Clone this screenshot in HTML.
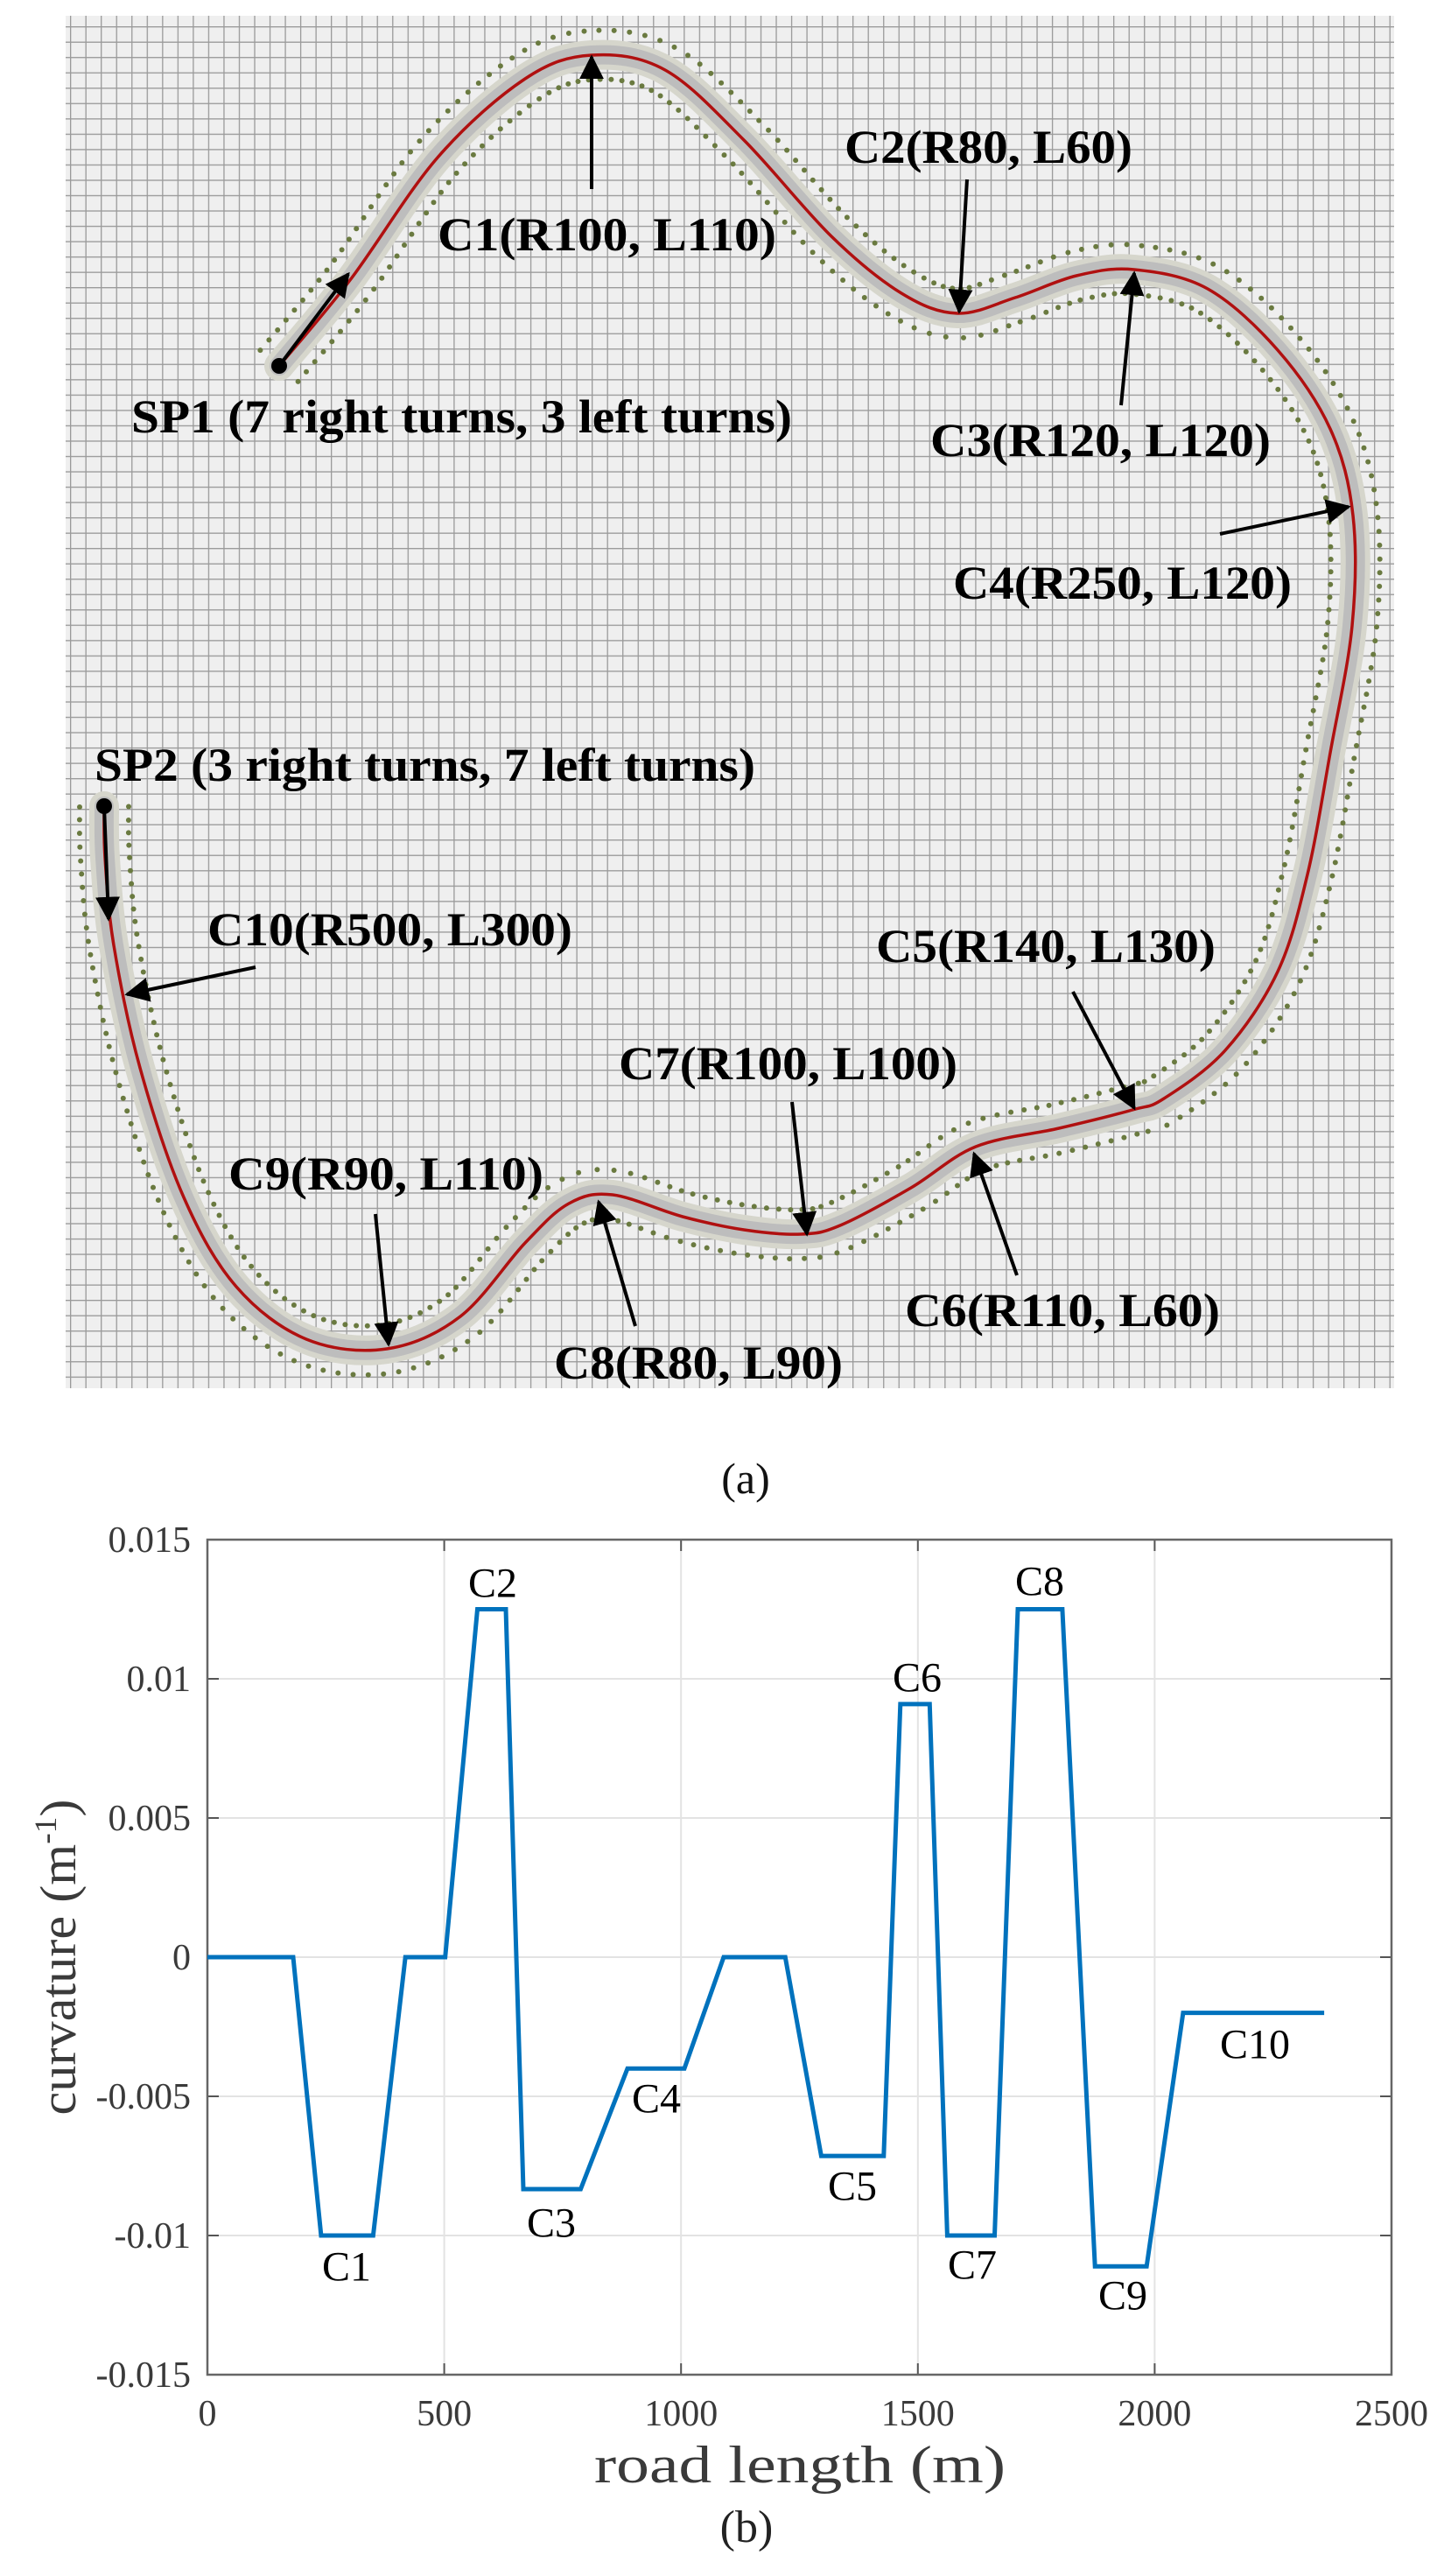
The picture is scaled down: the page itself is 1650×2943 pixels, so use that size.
<!DOCTYPE html>
<html><head><meta charset="utf-8"><style>
html,body{margin:0;padding:0;background:#fff;}
svg{display:block;}
</style></head><body>
<svg id="s" width="1650" height="2943" viewBox="0 0 1650 2943" xmlns="http://www.w3.org/2000/svg">
<defs>
<pattern id="grid" x="80" y="30" width="17.53" height="17.53" patternUnits="userSpaceOnUse">
<rect width="17.53" height="17.53" fill="#efefef"/>
<path d="M0 0V17.53M0 0H17.53" stroke="#9a9a9a" stroke-width="2.6" fill="none"/>
</pattern>
<marker id="ah" viewBox="0 0 10 10" refX="9" refY="5" markerWidth="7" markerHeight="7" orient="auto" markerUnits="strokeWidth">
<path d="M0 0L10 5L0 10z" fill="#000"/>
</marker>
</defs>
<rect x="75" y="18" width="1518" height="1568" fill="url(#grid)"/>
<g id="trees" fill="#6a7a40"></g>
<g id="road" fill="none" stroke-linecap="round" stroke-linejoin="round">
<path class="rp" id="mainpath" stroke="#d6d6cc" stroke-width="34"/>
<path class="rp" stroke="#bdbdbd" stroke-width="22"/>
<path class="rp" stroke="#b01010" stroke-width="3.5"/>
</g>
<circle cx="319" cy="418" r="9" fill="#000"/>
<circle cx="119" cy="921" r="9" fill="#000"/>
<g stroke="#000" stroke-width="4" marker-end="url(#ah)" fill="none">
<line x1="676" y1="216" x2="676" y2="65"/>
<line x1="1105" y1="205" x2="1096" y2="356"/>
<line x1="1281" y1="463" x2="1296" y2="312"/>
<line x1="1394" y1="610" x2="1541" y2="579"/>
<line x1="319" y1="418" x2="398" y2="313"/>
<line x1="119" y1="921" x2="124" y2="1050"/>
<line x1="292" y1="1105" x2="145" y2="1136"/>
<line x1="1226" y1="1133" x2="1296" y2="1266"/>
<line x1="905" y1="1259" x2="922" y2="1410"/>
<line x1="1162" y1="1457" x2="1113" y2="1318"/>
<line x1="726" y1="1515" x2="684" y2="1373"/>
<line x1="429" y1="1387" x2="444" y2="1536"/>
</g>
<g font-family="Liberation Serif, serif" font-weight="bold" font-size="54" fill="#000">
<text x="500" y="286" textLength="387" lengthAdjust="spacingAndGlyphs">C1(R100, L110)</text>
<text x="965" y="186" textLength="329" lengthAdjust="spacingAndGlyphs">C2(R80, L60)</text>
<text x="150" y="494" textLength="755" lengthAdjust="spacingAndGlyphs">SP1 (7 right turns, 3 left turns)</text>
<text x="1063" y="521" textLength="389" lengthAdjust="spacingAndGlyphs">C3(R120, L120)</text>
<text x="1089" y="684" textLength="387" lengthAdjust="spacingAndGlyphs">C4(R250, L120)</text>
<text x="108" y="892" textLength="755" lengthAdjust="spacingAndGlyphs">SP2 (3 right turns, 7 left turns)</text>
<text x="237" y="1080" textLength="417" lengthAdjust="spacingAndGlyphs">C10(R500, L300)</text>
<text x="1001" y="1099" textLength="388" lengthAdjust="spacingAndGlyphs">C5(R140, L130)</text>
<text x="707" y="1233" textLength="387" lengthAdjust="spacingAndGlyphs">C7(R100, L100)</text>
<text x="261" y="1359" textLength="360" lengthAdjust="spacingAndGlyphs">C9(R90, L110)</text>
<text x="1034" y="1515" textLength="360" lengthAdjust="spacingAndGlyphs">C6(R110, L60)</text>
<text x="633" y="1575" textLength="330" lengthAdjust="spacingAndGlyphs">C8(R80, L90)</text>
</g>
<text x="852" y="1706" font-family="Liberation Serif, serif" font-size="50" text-anchor="middle" fill="#111">(a)</text>

<g id="gridb" stroke="#e3e3e3" stroke-width="2"></g>
<g id="ticks" stroke="#555" stroke-width="2"></g>
<rect x="237" y="1759" width="1353" height="954" fill="none" stroke="#666" stroke-width="2.5"/>
<polyline id="curve" fill="none" stroke="#0072BD" stroke-width="5" stroke-linejoin="miter"/>
<g id="labs" font-family="Liberation Serif, serif" font-size="42" fill="#3a3a3a"></g>
<g font-family="Liberation Serif, serif" font-size="48" fill="#000" text-anchor="middle" dominant-baseline="central">
<text x="563" y="1809">C2</text>
<text x="396" y="2590">C1</text>
<text x="630" y="2540">C3</text>
<text x="750" y="2398">C4</text>
<text x="974" y="2498">C5</text>
<text x="1048" y="1917">C6</text>
<text x="1111" y="2588">C7</text>
<text x="1188" y="1807">C8</text>
<text x="1283" y="2623">C9</text>
<text x="1434" y="2336">C10</text>
</g>
<text x="914" y="2836" font-family="Liberation Serif, serif" font-size="60" text-anchor="middle" fill="#3a3a3a" textLength="470" lengthAdjust="spacingAndGlyphs">road length (m)</text>
<text transform="translate(86,2236) rotate(-90)" font-family="Liberation Serif, serif" font-size="58" text-anchor="middle" fill="#3a3a3a" textLength="361" lengthAdjust="spacingAndGlyphs">curvature (m<tspan dy="-22" font-size="36">-1</tspan><tspan dy="22">)</tspan></text>
<text x="853" y="2904" font-family="Liberation Serif, serif" font-size="52" text-anchor="middle" fill="#222">(b)</text>
</svg>
<script>
var NS="http://www.w3.org/2000/svg";
var pts=[[319,418],[400,320],[500,180],[600,90],[676,63],[760,80],[850,160],[950,270],[1030,335],[1094,358],[1160,340],[1230,315],[1296,308],[1380,330],[1460,400],[1520,490],[1546,589],[1545,715],[1520,860],[1494,999],[1460,1110],[1400,1200],[1330,1255],[1294,1268],[1210,1289],[1115,1310],[1041,1357],[960,1400],[915,1410],[850,1405],[780,1390],[700,1365],[650,1375],[600,1420],[526,1504],[442,1541],[350,1530],[270,1470],[210,1368],[160,1220],[130,1080],[120,980],[119,921]];
var d="M"+pts[0][0]+" "+pts[0][1];
for(var i=0;i<pts.length-1;i++){
 var p0=pts[Math.max(i-1,0)],p1=pts[i],p2=pts[i+1],p3=pts[Math.min(i+2,pts.length-1)];
 var c1=[p1[0]+(p2[0]-p0[0])/6,p1[1]+(p2[1]-p0[1])/6];
 var c2=[p2[0]-(p3[0]-p1[0])/6,p2[1]-(p3[1]-p1[1])/6];
 d+=" C"+c1[0]+" "+c1[1]+" "+c2[0]+" "+c2[1]+" "+p2[0]+" "+p2[1];
}
document.querySelectorAll(".rp").forEach(function(e){e.setAttribute("d",d);});
function el(tag,a,par){var e=document.createElementNS(NS,tag);for(var k in a)e.setAttribute(k,a[k]);par.appendChild(e);return e;}
var mp=document.getElementById("mainpath"),tr=document.getElementById("trees");
var len=mp.getTotalLength();
for(var s=0;s<=len;s+=15){
 var a=mp.getPointAtLength(Math.max(s-1,0)),b=mp.getPointAtLength(Math.min(s+1,len));
 var dx=b.x-a.x,dy=b.y-a.y,n=Math.hypot(dx,dy)||1;var nx=-dy/n,ny=dx/n;
 var p=mp.getPointAtLength(s);
 [28,-28].forEach(function(o){el("circle",{cx:(p.x+nx*o).toFixed(1),cy:(p.y+ny*o).toFixed(1),r:3},tr);});
}
function X(v){return 237+v/2500*1353;}
function Y(c){return 1759+(0.015-c)/0.03*954;}
var g=document.getElementById("gridb"),t=document.getElementById("ticks"),L=document.getElementById("labs");
[500,1000,1500,2000].forEach(function(v){var x=X(v);el("line",{x1:x,y1:1759,x2:x,y2:2713},g);
 el("line",{x1:x,y1:2713,x2:x,y2:2700},t);el("line",{x1:x,y1:1759,x2:x,y2:1772},t);});
[0.01,0.005,0,-0.005,-0.01].forEach(function(c){var y=Y(c);el("line",{x1:237,y1:y,x2:1590,y2:y},g);
 el("line",{x1:237,y1:y,x2:250,y2:y},t);el("line",{x1:1577,y1:y,x2:1590,y2:y},t);});
[0,500,1000,1500,2000,2500].forEach(function(v){var e=el("text",{x:X(v),y:2771,"text-anchor":"middle"},L);e.textContent=v;});
[["0.015",0.015],["0.01",0.01],["0.005",0.005],["0",0],["-0.005",-0.005],["-0.01",-0.01],["-0.015",-0.015]].forEach(function(a){
 var e=el("text",{x:218,y:Y(a[1])+14,"text-anchor":"end"},L);e.textContent=a[0];});
var data=[[0,0],[181,0],[240,-0.01],[350,-0.01],[418,0],[502,0],[570,0.0125],[630,0.0125],[667,-1/120],[788,-1/120],[887,-0.004],[1007,-0.004],[1090,0],[1220,0],[1296,-1/140],[1428,-1/140],[1463,1/110],[1525,1/110],[1562,-0.01],[1662,-0.01],[1711,0.0125],[1805,0.0125],[1874,-1/90],[1983,-1/90],[2060,-0.002],[2358,-0.002]];
document.getElementById("curve").setAttribute("points",data.map(function(p){return X(p[0]).toFixed(1)+","+Y(p[1]).toFixed(1);}).join(" "));
</script>
</body></html>
